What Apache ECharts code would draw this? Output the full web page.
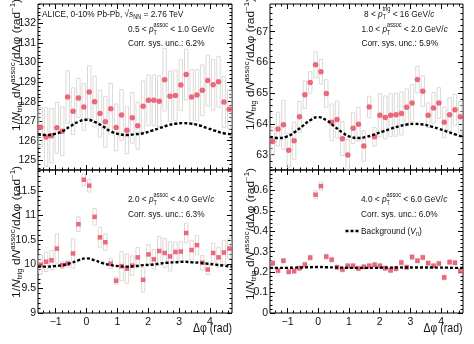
<!DOCTYPE html>
<html><head><meta charset="utf-8">
<script src="https://cdn.jsdelivr.net/npm/echarts@6/dist/echarts.min.js"></script>
<style>html,body{margin:0;padding:0;background:#fff}#c{width:474px;height:344px}</style>
</head><body><div id="c"></div><script>
// ---------------- data ----------------
const phi = [-1.4835,-1.3090,-1.1345,-0.9599,-0.7854,-0.6109,-0.4363,-0.2618,-0.0873,0.0873,0.2618,0.4363,0.6109,0.7854,0.9599,1.1345,1.3090,1.4835,1.6581,1.8326,2.0071,2.1817,2.3562,2.5307,2.7053,2.8798,3.0543,3.2289,3.4034,3.5779,3.7525,3.9270,4.1015,4.2761,4.4506,4.6251];
const phiCurve = [-1.5708,-1.3090,-1.0472,-0.7854,-0.5236,-0.2618,0,0.2618,0.5236,0.7854,1.0472,1.3090,1.5708,1.8326,2.0944,2.3562,2.6180,2.8798,3.1416,3.4034,3.6652,3.9270,4.1888,4.4506,4.7124];

const tlY = [126.69,126.19,126.25,126.66,126.49,128.24,127.51,128.19,127.73,128.49,128.00,127.39,126.97,127.64,126.68,127.32,126.53,127.17,126.76,127.76,128.07,128.07,128.02,129.12,128.27,128.32,128.85,129.39,128.24,128.34,128.58,129.08,128.86,129.02,127.98,127.61];
const tlErr = [1.0,1.5,1.4,1.3,1.25,1.35,1.2,1.0,1.2,1.35,1.3,1.2,1.3,1.3,1.2,1.3,1.2,1.3,1.2,1.3,1.3,1.3,1.3,1.6,1.3,1.3,1.3,1.3,1.4,1.3,1.3,1.3,1.3,1.3,1.3,1.0];
const tlBkg = [126.33,126.29,126.34,126.48,126.74,126.97,127.07,126.97,126.74,126.48,126.34,126.29,126.33,126.38,126.50,126.64,126.78,126.87,126.90,126.87,126.78,126.64,126.50,126.38,126.33];

const trY = [63.43,63.83,63.97,63.14,63.45,64.23,64.95,65.35,65.92,65.70,64.99,64.05,64.14,63.52,62.99,63.86,63.99,63.28,64.55,63.58,64.28,64.21,64.28,64.30,64.34,64.54,64.68,65.44,65.06,64.28,64.52,64.68,64.05,64.30,64.46,64.23];
const trErr = [0.45,0.55,0.8,0.55,0.6,0.5,0.45,0.35,0.43,0.4,0.45,0.6,0.6,0.55,0.5,0.5,0.55,0.5,0.35,0.3,0.7,0.7,0.7,0.7,0.7,0.6,0.6,0.43,0.5,0.4,0.5,0.5,0.5,0.55,0.5,0.5];
const trBkg = [63.58,63.54,63.58,63.72,63.92,64.12,64.22,64.12,63.92,63.72,63.58,63.54,63.58,63.66,63.75,63.84,63.92,63.98,64.00,63.98,63.92,63.84,63.75,63.66,63.58];

const blY = [9.99,10.05,10.08,10.32,9.98,10.01,10.22,10.82,11.73,11.61,10.97,10.55,10.45,10.01,9.66,9.96,9.91,9.97,10.14,9.68,10.20,10.10,10.27,10.23,10.16,10.25,10.26,10.64,10.29,10.39,10.03,9.89,10.23,10.14,10.24,10.32];
const blErr = [0.2,0.2,0.2,0.3,0.07,0.07,0.3,0.15,0.12,0.13,0.17,0.2,0.17,0.1,0.07,0.3,0.3,0.2,0.2,0.25,0.2,0.2,0.3,0.3,0.3,0.2,0.2,0.2,0.2,0.2,0.15,0.1,0.2,0.2,0.25,0.2];
const blBkg = [9.95,9.95,9.96,9.98,10.02,10.08,10.12,10.08,10.02,9.98,9.96,9.95,9.96,9.98,9.99,10.01,10.03,10.04,10.05,10.04,10.03,10.01,9.99,9.97,9.95];

const brY = [0.244,0.208,0.256,0.202,0.205,0.219,0.237,0.271,0.579,0.621,0.276,0.261,0.224,0.213,0.231,0.231,0.218,0.226,0.231,0.236,0.231,0.219,0.209,0.217,0.247,0.224,0.274,0.256,0.272,0.244,0.231,0.242,0.174,0.249,0.246,0.206];
const brErr = [0.012,0.012,0.012,0.012,0.012,0.012,0.012,0.012,0.02,0.02,0.012,0.012,0.012,0.012,0.012,0.012,0.012,0.012,0.012,0.012,0.012,0.012,0.012,0.012,0.012,0.012,0.012,0.012,0.012,0.012,0.012,0.012,0.012,0.012,0.012,0.012];
const brBkg = [0.221,0.221,0.221,0.222,0.223,0.224,0.225,0.224,0.223,0.222,0.221,0.221,0.221,0.221,0.222,0.222,0.223,0.223,0.223,0.223,0.223,0.222,0.222,0.221,0.221];

const xTicks = [-1,0,1,2,3,4];
const tlTicks = [125,126,127,128,129,130,131,132];
const trTicks = [63,64,65,66,67];
const blTicks = [9,9.5,10,10.5,11,11.5];
const brTicks = [0,0.1,0.2,0.3,0.4,0.5,0.6];

// ---------------- style / layout ----------------
const FONT = '"Liberation Sans", Arial, Helvetica, sans-serif';
const RED = '#e8455c';
const BOX = '#ddd8d8';
const TXT = '#111';
const XMIN = -1.5708, XMAX = 4.7124;

function minors(min, max, step, majors){
  const out = [];
  const k0 = Math.ceil(min/step - 1e-6), k1 = Math.floor(max/step + 1e-6);
  for (let k=k0;k<=k1;k++){
    const v = Math.round(k*step*1e6)/1e6;
    if (!majors.some(m=>Math.abs(m-v)<step*0.01)) out.push(v);
  }
  return out;
}

const panels = [
  {grid:{left:38,top:4,width:194,height:166}, ymin:124.5, ymax:133, ticks:tlTicks, mstep:0.2, y:tlY, e:tlErr, c:tlBkg, sym:'circle', size:5.5, xlab:false},
  {grid:{left:270,top:4,width:193,height:166}, ymin:62.5, ymax:67.9, ticks:trTicks, mstep:0.2, y:trY, e:trErr, c:trBkg, sym:'circle', size:5.5, xlab:false},
  {grid:{left:38,top:170,width:194,height:143}, ymin:9, ymax:11.93, ticks:blTicks, mstep:0.1, y:blY, e:blErr, c:blBkg, sym:'rect', size:4.5, xlab:true},
  {grid:{left:270,top:170,width:193,height:143}, ymin:0, ymax:0.7, ticks:brTicks, mstep:0.02, y:brY, e:brErr, c:brBkg, sym:'rect', size:4.5, xlab:true}
];

const xMinor = minors(XMIN, XMAX, 0.2, xTicks);
const fmt = v => String(v).replace('-', '\u2212');
const noLine = {show:false, onZero:false};

const grids=[], xAxes=[], yAxes=[], series=[];
function boxRender(params, api){
  const x=api.value(0), y=api.value(1), e=api.value(2);
  const p1=api.coord([x-0.055, y+e]), p2=api.coord([x+0.055, y-e]);
  const cs=params.coordSys;
  const r=echarts.graphic.clipRectByRect({x:p1[0],y:p1[1],width:p2[0]-p1[0],height:p2[1]-p1[1]},{x:cs.x,y:cs.y,width:cs.width,height:cs.height});
  return r && {type:'rect', shape:r, style:{fill:'none', stroke:BOX, lineWidth:1}};
}
panels.forEach((p,gi)=>{
  grids.push(Object.assign({show:true, borderColor:'#000', borderWidth:1, backgroundColor:'transparent', containLabel:false}, p.grid));
  const xb = {gridIndex:gi, type:'value', min:XMIN, max:XMAX, axisLine:noLine, splitLine:{show:false}};
  const maj = {show:true, inside:true, length:5, customValues:xTicks, lineStyle:{color:'#000', width:1}};
  const mnr = {show:true, inside:true, length:2.5, customValues:xMinor, lineStyle:{color:'#000', width:1}};
  xAxes.push(Object.assign({}, xb, {position:'bottom', axisTick:maj, axisLabel:{show:p.xlab, customValues:xTicks, margin:4, fontSize:10.5, fontFamily:FONT, color:TXT, formatter:fmt}}));
  xAxes.push(Object.assign({}, xb, {position:'bottom', axisTick:mnr, axisLabel:{show:false}}));
  xAxes.push(Object.assign({}, xb, {position:'top', axisTick:maj, axisLabel:{show:false}}));
  xAxes.push(Object.assign({}, xb, {position:'top', axisTick:mnr, axisLabel:{show:false}}));
  const yMinor = minors(p.ymin, p.ymax, p.mstep, p.ticks);
  const yb = {gridIndex:gi, type:'value', min:p.ymin, max:p.ymax, axisLine:noLine, splitLine:{show:false}};
  const ymaj = {show:true, inside:true, length:5, customValues:p.ticks, lineStyle:{color:'#000', width:1}};
  const ymnr = {show:true, inside:true, length:2.5, customValues:yMinor, lineStyle:{color:'#000', width:1}};
  yAxes.push(Object.assign({}, yb, {position:'left', axisTick:ymaj, axisLabel:{show:true, customValues:p.ticks, margin:2, fontSize:10.5, fontFamily:FONT, color:TXT}}));
  yAxes.push(Object.assign({}, yb, {position:'left', axisTick:ymnr, axisLabel:{show:false}}));
  yAxes.push(Object.assign({}, yb, {position:'right', axisTick:ymaj, axisLabel:{show:false}}));
  yAxes.push(Object.assign({}, yb, {position:'right', axisTick:ymnr, axisLabel:{show:false}}));
  const ai = gi*4;
  series.push({type:'custom', xAxisIndex:ai, yAxisIndex:ai, renderItem:boxRender, silent:true, z:2,
    data: phi.map((x,i)=>[x, p.y[i], p.e[i]])});
  series.push({type:'scatter', xAxisIndex:ai, yAxisIndex:ai, symbol:p.sym, symbolSize:p.size, silent:true, z:3,
    itemStyle:{color:RED}, data: phi.map((x,i)=>[x, p.y[i]])});
  series.push({type:'line', xAxisIndex:ai, yAxisIndex:ai, smooth:true, showSymbol:false, silent:true, z:4,
    lineStyle:{color:'#000', width:2.4, type:[3,2]}, data: phiCurve.map((x,i)=>[x, p.c[i]])});
});

// ---------------- text helpers ----------------
const mctx = document.createElement('canvas').getContext('2d');
function tw(t,s,it){ mctx.font=(it?'italic ':'')+s+'px '+FONT; return mctx.measureText(t).width; }
function piece(q,x){ return {type:'text', x:x, y:q.dy||0, silent:true, style:{text:q.t, fontSize:q.s, fontFamily:FONT, fontStyle:q.it?'italic':'normal', fill:TXT, align:'left', verticalAlign:'middle'}}; }
function block(x,y,segs,opt){
  opt=opt||{}; let cx=0; const kids=[];
  segs.forEach(g=>{
    if(g.stack){ let w=0; g.stack.forEach(q=>{kids.push(piece(q,cx)); w=Math.max(w,tw(q.t,q.s,q.it));}); cx+=w; }
    else { kids.push(piece(g,cx)); cx+=tw(g.t,g.s,g.it); }
  });
  const off = opt.align==='right' ? -cx : opt.align==='center' ? -cx/2 : 0;
  kids.forEach(k=>k.x+=off);
  return {type:'group', x:x, y:y, rotation:opt.rot||0, scaleX:opt.sx||1, scaleY:opt.sy||1, children:kids};
}
const S=8.3, s2=5.5;
const pT = (sup)=>[{t:'p',s:S,it:true},{stack:[{t:sup,s:s2,dy:-3.6},{t:'T',s:s2,dy:3}]}];
const range = (a,sup,b)=>[{t:a+' < ',s:S}].concat(pT(sup)).concat([{t:' < '+b+' GeV/',s:S},{t:'c',s:S,it:true}]);
const sys = v=>[{t:'Corr. sys. unc.: '+v,s:S}];
const F=10, f2=6.5;
const ytitle = [{t:'1/',s:F},{t:'N',s:F,it:true},{t:'trig',s:f2,dy:3.2},{t:' d',s:F},{t:'N',s:F,it:true},{t:'assoc',s:f2,dy:-4},{t:'/d\u0394\u03c6 (rad',s:F},{t:'\u22121',s:f2,dy:-4},{t:')',s:F}];
const xtitle = [{t:'\u0394\u03c6 (rad)',s:10.5}];
const ann = {sy:1.2};
const graphic = [
  block(42,14,[{t:'ALICE, 0-10% Pb-Pb, ',s:S},{t:'\u221a',s:S},{t:'s',s:S,it:true},{t:'NN',s:s2,dy:3},{t:' = 2.76 TeV',s:S}],ann),
  block(128,29.5,range('0.5','assoc','1.0'),ann),
  block(128,43.3,sys('6.2%'),ann),
  block(364,14,[{t:'8 < ',s:S}].concat(pT('trig')).concat([{t:' < 16 GeV/',s:S},{t:'c',s:S,it:true}]),ann),
  block(361.5,29.5,range('1.0','assoc','2.0'),ann),
  block(361.5,43.3,sys('5.9%'),ann),
  block(128,199.3,range('2.0','assoc','4.0'),ann),
  block(128,214,sys('6.3%'),ann),
  block(361,199.3,range('4.0','assoc','6.0'),ann),
  block(361,214,sys('6.0%'),ann),
  {type:'line', silent:true, shape:{x1:345.5,y1:231,x2:358.5,y2:231}, style:{stroke:'#000', lineWidth:2.4, lineDash:[3,2]}},
  block(361,231,[{t:'Background (',s:S},{t:'V',s:S,it:true},{t:'n',s:s2,dy:3},{t:')',s:S}],ann),
  block(17,65,ytitle,{align:'center',rot:Math.PI/2,sx:1.2}),
  block(251.5,64,ytitle,{align:'center',rot:Math.PI/2,sx:1.2}),
  block(17,232,ytitle,{align:'center',rot:Math.PI/2,sx:1.2}),
  block(251.5,234,ytitle,{align:'center',rot:Math.PI/2,sx:1.2}),
  block(232,329,xtitle,{align:'right',sy:1.2}),
  block(462.5,329,xtitle,{align:'right',sy:1.2})
];

const chart = echarts.init(document.getElementById('c'), null, {renderer:'canvas'});
chart.setOption({animation:false, backgroundColor:'#fff', grid:grids, xAxis:xAxes, yAxis:yAxes, series:series, graphic:graphic});
</script></body></html>
